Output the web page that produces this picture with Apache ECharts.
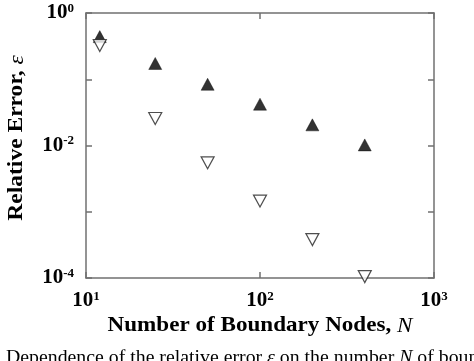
<!DOCTYPE html>
<html>
<head>
<meta charset="utf-8">
<style>
html,body{margin:0;padding:0;background:#fff;}
#c{width:474px;height:361px;}
</style>
<script src="https://cdn.jsdelivr.net/npm/echarts@6/dist/echarts.min.js"></script>
</head>
<body>
<div id="c"></div>
<script>
// Data
const boundaryNodes = [12, 25, 50, 100, 200, 400];
const errorFilled = [0.44, 0.173, 0.084, 0.042, 0.0205, 0.0102];
const errorOpen = [0.323, 0.0256, 0.00548, 0.00145, 0.00038, 0.000105];
const xTickExponents = [1, 2, 3];
const yTickExponents = [0, -2, -4];
const xTitle = 'Number of Boundary Nodes, ';
const xTitleSymbol = 'N';
const yTitle = 'Relative Error, ';
const yTitleSymbol = 'ε';
const caption = 'Dependence of the relative error {i|ε} on the number {i|N} of boundary nodes';

const FONT = 'Liberation Serif';
const AXIS_COLOR = '#707070';

function pairs(xs, ys) { return xs.map((x, i) => [x, ys[i]]); }

function expLabel(list) {
  return function (v) {
    const e = Math.round(Math.log10(v));
    if (list.indexOf(e) < 0) return '';
    return '{b|10}{s|' + (e < 0 ? '-' + (-e) : e) + '}';
  };
}
const labelRich = {
  b: { fontFamily: FONT, fontWeight: 'bold', fontSize: 21, color: '#000', lineHeight: 22 },
  s: { fontFamily: FONT, fontWeight: 'bold', fontSize: 13, color: '#000', verticalAlign: 'top', lineHeight: 14 }
};

const axisCommon = {
  type: 'log',
  logBase: 10,
  axisLine: { show: true, lineStyle: { color: AXIS_COLOR, width: 1.5 } },
  axisTick: { show: true, inside: true, length: 6, lineStyle: { color: AXIS_COLOR, width: 1.5 } },
  minorTick: { show: false },
  splitLine: { show: false }
};

const titleRich = { i: { fontFamily: FONT, fontStyle: 'italic', fontWeight: 'normal', fontSize: 21, fill: '#000' } };

const chart = echarts.init(document.getElementById('c'), null, { renderer: 'canvas' });
chart.setOption({
  backgroundColor: '#fff',
  animation: false,
  grid: { left: 86, top: 13, right: 40, bottom: 83 },
  xAxis: [
    Object.assign({}, axisCommon, {
      position: 'bottom', min: 10, max: 1000,
      axisLabel: { formatter: expLabel(xTickExponents), rich: labelRich, margin: 12 }
    }),
    Object.assign({}, axisCommon, {
      position: 'top', min: 10, max: 1000, axisLabel: { show: false }
    })
  ],
  yAxis: [
    Object.assign({}, axisCommon, {
      position: 'left', min: 1e-4, max: 1,
      axisLabel: { formatter: expLabel(yTickExponents), rich: labelRich, margin: 12 }
    }),
    Object.assign({}, axisCommon, {
      position: 'right', min: 1e-4, max: 1, axisLabel: { show: false }
    })
  ],
  series: [
    {
      type: 'scatter', name: 'filled', xAxisIndex: 0, yAxisIndex: 0,
      data: pairs(boundaryNodes, errorFilled),
      symbol: 'triangle', symbolSize: [13, 12],
      itemStyle: { color: '#000', borderColor: '#000', borderWidth: 0.5 },
      clip: false, z: 2
    },
    {
      type: 'scatter', name: 'open', xAxisIndex: 0, yAxisIndex: 0,
      data: pairs(boundaryNodes, errorOpen),
      symbol: 'triangle', symbolRotate: 180, symbolSize: [13, 12],
      itemStyle: { color: '#fff', borderColor: '#222', borderWidth: 1.2 },
      clip: false, z: 3
    }
  ],
  graphic: [
    {
      type: 'text', x: 260, y: 326, scaleX: 1.1,
      style: {
        text: xTitle + '{i|' + xTitleSymbol + '}',
        fontFamily: FONT, fontWeight: 'bold', fontSize: 21, fill: '#000',
        align: 'center', verticalAlign: 'middle', rich: titleRich
      }
    },
    {
      type: 'text', x: 17, y: 138, rotation: Math.PI / 2, scaleX: 1.12,
      style: {
        text: yTitle + '{i|' + yTitleSymbol + '}',
        fontFamily: FONT, fontWeight: 'bold', fontSize: 21, fill: '#000',
        align: 'center', verticalAlign: 'middle', rich: titleRich
      }
    },
    {
      type: 'text', x: 6, y: 349, scaleX: 1.1,
      style: {
        text: caption,
        fontFamily: FONT, fontSize: 18, fill: '#000',
        align: 'left', verticalAlign: 'top',
        rich: { i: { fontFamily: FONT, fontStyle: 'italic', fontSize: 18, fill: '#000' } }
      }
    }
  ]
});
</script>
</body>
</html>
